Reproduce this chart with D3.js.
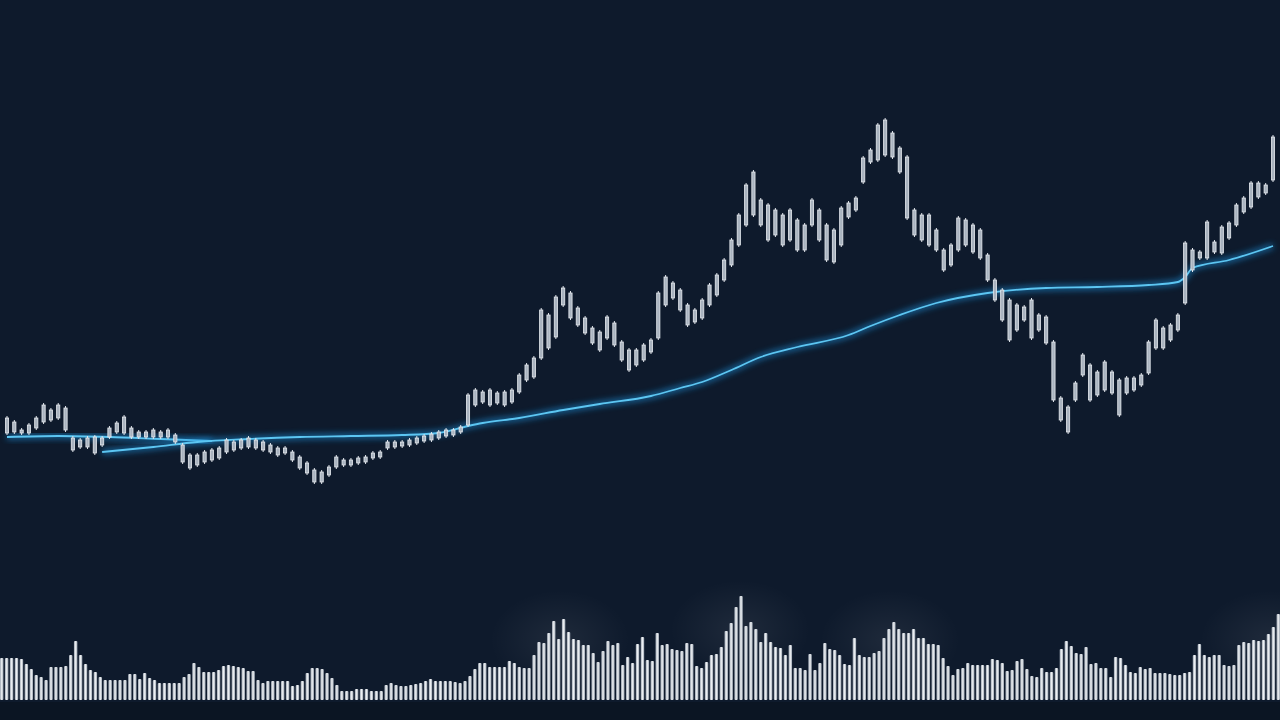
<!DOCTYPE html>
<html><head><meta charset="utf-8">
<script src="https://cdn.jsdelivr.net/npm/d3@7/dist/d3.min.js"></script>
<style>html,body{margin:0;padding:0;background:#0e1a2c;overflow:hidden}svg{display:block}</style>
</head><body>
<svg id="chart" width="1280" height="720"></svg>
<script>
// Candle bodies (price units)
const open = [127,138,130,127,132,138,150,142,152,122,120,113,123,115,123,128,127,132,128,123,123,128,123,125,115,105,95,98,100,102,108,118,112,113,120,118,115,112,112,108,103,97,90,78,85,93,100,95,97,98,102,103,112,118,114,115,117,119,120,122,124,130,128,135,155,168,155,167,155,158,168,180,183,202,245,223,255,267,252,242,232,228,222,237,218,210,195,200,208,222,255,277,270,255,250,242,255,265,280,295,315,335,345,360,355,325,345,320,340,335,335,350,335,330,315,343,350,378,398,400,405,427,412,403,350,345,315,330,310,295,310,340,335,330,305,280,270,260,230,240,222,245,243,218,162,153,160,185,195,165,170,188,180,167,170,175,187,212,232,220,230,257,310,308,302,318,307,322,335,348,353,363,375,380];
const close = [142,128,127,135,142,155,140,155,130,110,113,122,107,122,132,137,143,123,123,128,130,123,130,118,98,92,105,108,110,112,120,110,120,122,112,110,108,105,107,100,92,87,78,88,93,103,95,100,102,103,107,108,118,113,118,120,122,124,126,128,130,125,133,165,170,158,170,157,168,170,185,195,202,250,212,263,272,242,235,227,217,210,243,215,200,190,210,215,220,267,283,262,250,235,238,260,275,285,300,320,345,375,388,335,320,350,315,350,310,310,360,320,300,298,352,357,362,402,410,435,440,403,388,342,325,320,345,310,290,315,342,315,308,302,280,260,240,220,255,253,260,230,217,160,140,128,177,205,160,188,198,167,145,182,182,185,218,240,212,235,245,317,290,302,338,308,333,337,355,362,377,377,367,423];

// Moving averages: [candle index, value]
const fastMA = [[0,123],[7,124],[14,123],[21,121],[28,119]];
const slowMA = [[13,108],[20,113],[26,118],[33,121],[40,123],[47,124],[54,125],[59,127],[63,134],[65,137],[70,142],[76,150],[81,156],[88,164],[92,172],[95,178],[99,190],[103,203],[108,213],[115,225],[118,234],[122,245],[127,257],[134,267],[142,272],[149,273],[156,275],[160,278],[161,283],[162,292],[167,300],[173,314]];

// Volume
const volume = [42,42,42,42,41,36,31,25,23,20,33,33,33,34,45,59,45,36,30,28,23,20,20,20,20,20,26,26,21,27,22,20,17,17,17,17,17,23,26,37,33,28,28,28,30,34,35,34,33,32,29,29,20,17,19,19,19,19,19,14,15,19,27,32,32,
31,27,22,15,9,9,9,11,11,11,9,9,9,15,17,15,14,14,15,16,17,19,21,19,19,19,19,18,17,19,24,31,37,37,33,33,33,33,39,37,33,32,32,45,58,57,67,79,61,81,68,61,60,55,55,47,38,49,59,55,57,35,43,37,
56,63,40,39,67,55,56,51,50,49,57,56,34,32,38,45,46,53,69,77,93,104,74,78,71,58,67,58,53,52,45,55,32,32,30,46,30,37,57,51,50,45,36,35,62,45,43,43,47,49,62,71,78,71,67,67,71,62,62,56,56,55,42,34,25,31,
32,37,35,35,35,35,41,40,37,29,30,39,41,31,24,23,32,28,28,32,51,59,54,47,46,53,36,37,32,32,23,43,42,35,28,27,33,31,32,27,27,27,26,25,25,27,28,45,56,45,43,45,45,35,34,35,55,58,57,60,59,60,66,73,86];

const W = 1280, H = 720;
const svg = d3.select('#chart');
const defs = svg.append('defs');

const glow = defs.append('filter').attr('id','glow').attr('x','-5%').attr('y','-50%').attr('width','110%').attr('height','200%');
glow.append('feGaussianBlur').attr('stdDeviation',3);

const haze = defs.append('radialGradient').attr('id','haze');
haze.append('stop').attr('offset','0%').attr('stop-color','#ffffff').attr('stop-opacity',0.07);
haze.append('stop').attr('offset','100%').attr('stop-color','#ffffff').attr('stop-opacity',0);

const volGrad = defs.append('linearGradient').attr('id','volGrad').attr('x1',0).attr('x2',1).attr('y1',0).attr('y2',0);
volGrad.append('stop').attr('offset','0%').attr('stop-color','#9aa3af');
volGrad.append('stop').attr('offset','50%').attr('stop-color','#eef1f4');
volGrad.append('stop').attr('offset','100%').attr('stop-color','#9aa3af');

svg.append('rect').attr('width',W).attr('height',H).attr('fill','#0e1a2c');
svg.append('rect').attr('y',702).attr('width',W).attr('height',18).attr('fill','#0b1523');

const N = open.length;
const x = d3.scaleLinear().domain([0, N-1]).range([7, 1273]);
const y = d3.scaleLinear().domain([0, 500]).range([560, 60]);

const xv = d3.scaleBand().domain(d3.range(volume.length)).range([0, W]).paddingInner(0.3);
const yv = d3.scaleLinear().domain([0, 100]).range([700, 600]);

// haze behind volume peaks
[[560,640],[740,630],[890,640],[1270,640]].forEach(([cx,cy])=>{
  svg.append('ellipse').attr('cx',cx).attr('cy',cy).attr('rx',70).attr('ry',50).attr('fill','url(#haze)');
});

// volume bars
svg.append('g').selectAll('rect').data(volume).join('rect')
  .attr('x',(d,i)=>xv(i)).attr('width',xv.bandwidth())
  .attr('y',d=>yv(d)).attr('height',d=>yv(0)-yv(d))
  .attr('rx',1).attr('fill','url(#volGrad)');

// moving averages
const line = d3.line().x(d=>x(d[0])).y(d=>y(d[1])).curve(d3.curveMonotoneX);
[fastMA, slowMA].forEach(ma=>{
  svg.append('path').attr('d',line(ma)).attr('fill','none').attr('stroke','#1f8fd8').attr('stroke-width',5).attr('opacity',0.7).attr('filter','url(#glow)');
  svg.append('path').attr('d',line(ma)).attr('fill','none').attr('stroke','#5cc6f2').attr('stroke-width',1.8);
});

// candles
const idx = d3.range(N);
const g = svg.append('g');
g.selectAll('line').data(idx).join('line')
  .attr('x1',i=>x(i)).attr('x2',i=>x(i))
  .attr('y1',i=>y(Math.max(open[i],close[i]))-2)
  .attr('y2',i=>y(Math.min(open[i],close[i]))+2)
  .attr('stroke','#dfe4ea').attr('stroke-width',1);
g.selectAll('rect').data(idx).join('rect')
  .attr('x',i=>x(i)-1.6).attr('width',3.2)
  .attr('y',i=>y(Math.max(open[i],close[i])))
  .attr('height',i=>Math.max(2, Math.abs(y(open[i])-y(close[i]))))
  .attr('fill','#a9b3bf').attr('stroke','#e8ecf1').attr('stroke-width',0.8);
</script>
</body></html>
